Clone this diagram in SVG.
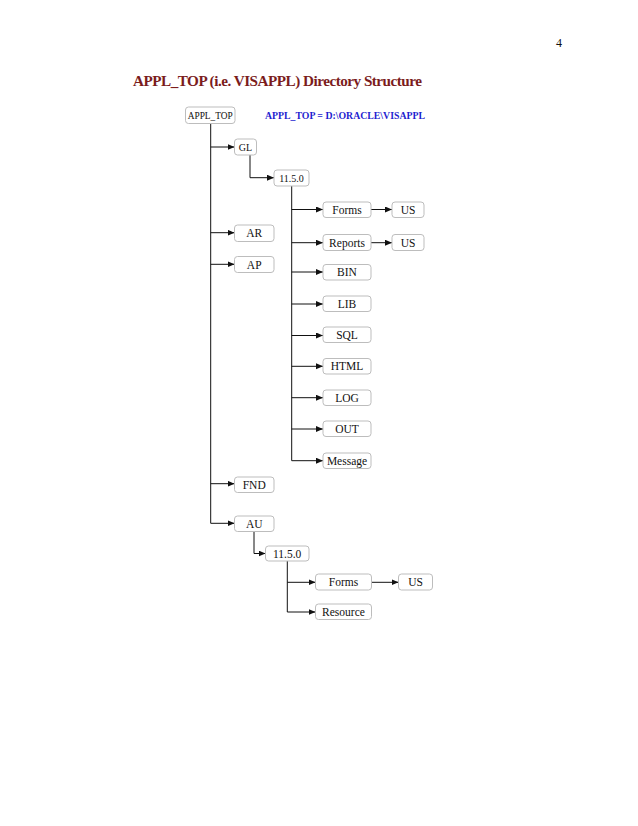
<svg xmlns="http://www.w3.org/2000/svg" width="638" height="826" viewBox="0 0 638 826">
<defs>
<marker id="arr" markerUnits="userSpaceOnUse" markerWidth="8" markerHeight="7" refX="7" refY="3" orient="auto">
<path d="M0,0 L7,3 L0,6 z" fill="#111"/>
</marker>
<style>
.box rect{fill:#fff;stroke:#bdbdbd;stroke-width:1}
.box text{font-family:"Liberation Serif","Times New Roman",serif;font-size:11.5px;fill:#111;text-anchor:middle}
.sm text{font-size:10px}
#connectors path{fill:none;stroke:#111;stroke-width:1}
.arrow{marker-end:url(#arr)}
</style>
</defs>
<rect x="0" y="0" width="638" height="826" fill="#fff"/>
<text x="559" y="47" font-family="'Liberation Serif','Times New Roman',serif" font-size="12" fill="#111" text-anchor="middle">4</text>
<text x="133" y="86" font-family="'Liberation Serif','Times New Roman',serif" font-weight="bold" font-size="15.2" fill="#7b1c1c" textLength="289" lengthAdjust="spacing">APPL_TOP (i.e. VISAPPL) Directory Structure</text>
<text x="265" y="118.5" font-family="'Liberation Serif','Times New Roman',serif" font-weight="bold" font-size="9.8" fill="#1f1fd0" textLength="160" lengthAdjust="spacingAndGlyphs">APPL_TOP = D:\ORACLE\VISAPPL</text>

<g id="connectors">
<path d="M210.7,123.5 V523.3"/>
<path class="arrow" d="M210.7,147 H234.5"/>
<path class="arrow" d="M210.7,232.7 H234.5"/>
<path class="arrow" d="M210.7,264.3 H234.5"/>
<path class="arrow" d="M210.7,483.7 H234.5"/>
<path class="arrow" d="M210.7,523.3 H234.5"/>
<path class="arrow" d="M250,155 V177.7 H274"/>
<path d="M291.7,186 V460.7"/>
<path class="arrow" d="M291.7,209.5 H323"/>
<path class="arrow" d="M291.7,242.7 H323"/>
<path class="arrow" d="M291.7,272 H323"/>
<path class="arrow" d="M291.7,304 H323"/>
<path class="arrow" d="M291.7,335.5 H323"/>
<path class="arrow" d="M291.7,366.3 H323"/>
<path class="arrow" d="M291.7,397.7 H323"/>
<path class="arrow" d="M291.7,429 H323"/>
<path class="arrow" d="M291.7,460.7 H323"/>
<path class="arrow" d="M371,209.5 H392"/>
<path class="arrow" d="M371,242.7 H392"/>
<path class="arrow" d="M254,531.5 V553.5 H265.5"/>
<path d="M287.3,561 V612"/>
<path class="arrow" d="M287.3,582.3 H315.5"/>
<path class="arrow" d="M287.3,612 H315.5"/>
<path class="arrow" d="M371.5,582.3 H398.5"/>
</g>

<g id="n-appltop" class="box sm"><rect x="185.5" y="107" width="49.5" height="16.5" rx="3"/><text x="210.2" y="119" font-size="9.8" textLength="45" lengthAdjust="spacingAndGlyphs">APPL_TOP</text></g>
<g id="n-gl" class="box sm"><rect x="234.5" y="139" width="22" height="16" rx="3"/><text x="245.5" y="150.5">GL</text></g>
<g id="n-gl-1150" class="box sm"><rect x="274" y="170" width="35" height="16" rx="3"/><text x="291.5" y="181.5">11.5.0</text></g>
<g id="n-gl-forms" class="box"><rect x="323" y="202" width="48" height="15.5" rx="3"/><text x="347" y="213.7">Forms</text></g>
<g id="n-gl-forms-us" class="box"><rect x="392" y="202" width="32" height="15.5" rx="3"/><text x="408" y="213.7">US</text></g>
<g id="n-gl-reports" class="box"><rect x="323" y="234.5" width="48" height="16" rx="3"/><text x="347" y="246.5">Reports</text></g>
<g id="n-gl-reports-us" class="box"><rect x="392" y="234.5" width="32" height="16" rx="3"/><text x="408" y="246.5">US</text></g>
<g id="n-ar" class="box"><rect x="234.5" y="225" width="39.5" height="16.5" rx="3"/><text x="254.2" y="237.3">AR</text></g>
<g id="n-ap" class="box"><rect x="234.5" y="256.5" width="39.5" height="16" rx="3"/><text x="254.2" y="268.5">AP</text></g>
<g id="n-bin" class="box"><rect x="323" y="264.5" width="48" height="15.5" rx="3"/><text x="347" y="276.3">BIN</text></g>
<g id="n-lib" class="box"><rect x="323" y="296" width="48" height="15.5" rx="3"/><text x="347" y="307.8">LIB</text></g>
<g id="n-sql" class="box"><rect x="323" y="327" width="48" height="15.5" rx="3"/><text x="347" y="338.8">SQL</text></g>
<g id="n-html" class="box"><rect x="323" y="358.5" width="48" height="15.5" rx="3"/><text x="347" y="370.3">HTML</text></g>
<g id="n-log" class="box"><rect x="323" y="390" width="48" height="15.5" rx="3"/><text x="347" y="401.8">LOG</text></g>
<g id="n-out" class="box"><rect x="323" y="421" width="48" height="15.5" rx="3"/><text x="347" y="432.8">OUT</text></g>
<g id="n-message" class="box"><rect x="323" y="453" width="48" height="15.5" rx="3"/><text x="347" y="464.8">Message</text></g>
<g id="n-fnd" class="box"><rect x="234.5" y="477" width="39.5" height="15.5" rx="3"/><text x="254.2" y="488.8">FND</text></g>
<g id="n-au" class="box"><rect x="234.5" y="516" width="39.5" height="15.5" rx="3"/><text x="254.2" y="527.8">AU</text></g>
<g id="n-au-1150" class="box"><rect x="265.5" y="546" width="43.5" height="15" rx="3"/><text x="287.2" y="557.5">11.5.0</text></g>
<g id="n-au-forms" class="box"><rect x="315.5" y="574" width="56" height="16" rx="3"/><text x="343.5" y="586">Forms</text></g>
<g id="n-au-forms-us" class="box"><rect x="398.5" y="574" width="34" height="16" rx="3"/><text x="415.5" y="586">US</text></g>
<g id="n-au-resource" class="box"><rect x="315.5" y="604" width="56" height="15.5" rx="3"/><text x="343.5" y="615.8">Resource</text></g>
</svg>
